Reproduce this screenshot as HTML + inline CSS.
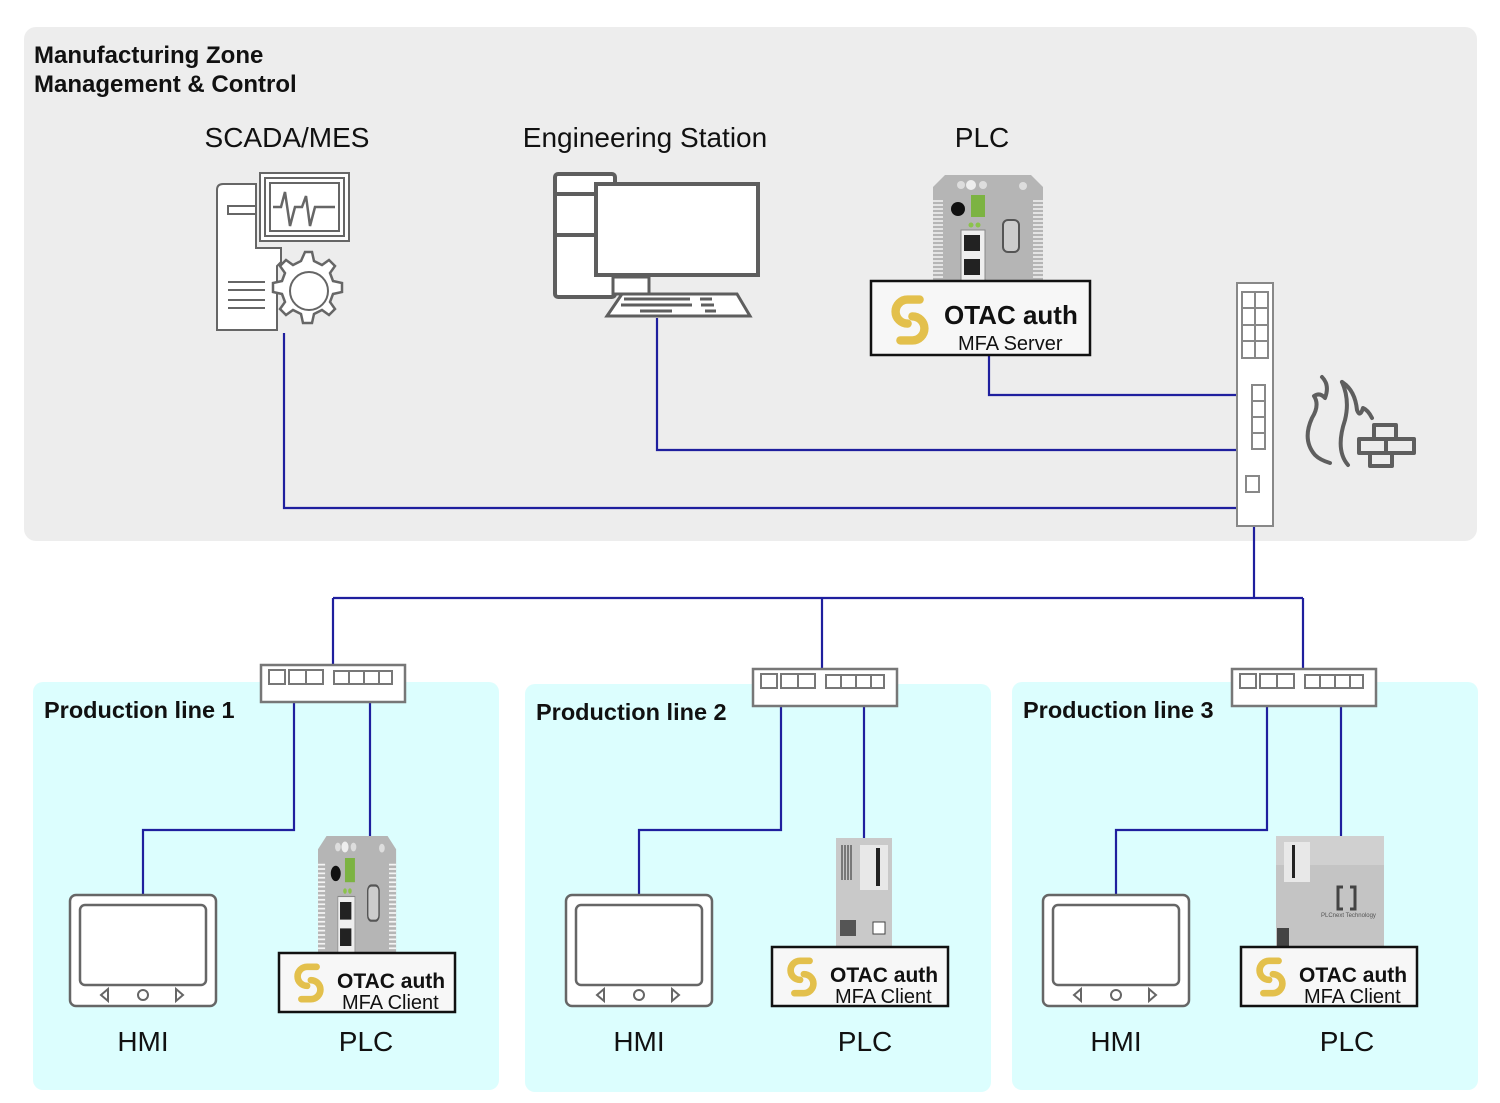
<!DOCTYPE html>
<html><head><meta charset="utf-8"><style>
html,body{margin:0;padding:0;background:#fff;}
svg{display:block;font-family:"Liberation Sans",Arial,sans-serif;}
</style></head><body>
<svg width="1500" height="1103" viewBox="0 0 1500 1103" xmlns="http://www.w3.org/2000/svg">
<defs>
  <g id="logo">
    <path d="M8,-17 H-2 A10,10 0 0 0 -2,3" fill="none" stroke="#e3c04c" stroke-width="7" stroke-linecap="round"/>
    <path d="M2,-3 A10,10 0 0 1 2,17 H-8" fill="none" stroke="#e3c04c" stroke-width="7" stroke-linecap="round"/>
  </g>
  <g id="client">
    <rect x="0" y="0" width="176" height="59" fill="#f7f7f7" stroke="#111" stroke-width="2.5"/>
    <use href="#logo" transform="translate(30,30) scale(0.95)"/>
    <text x="58" y="35" font-size="21" font-weight="bold" fill="#111">OTAC auth</text>
    <text x="63" y="56" font-size="20" fill="#111">MFA Client</text>
  </g>
  <g id="hmi">
    <rect x="0" y="0" width="146" height="111" rx="6" fill="#fff" stroke="#666" stroke-width="2.5"/>
    <rect x="10" y="10" width="126" height="80" rx="5" fill="#fff" stroke="#666" stroke-width="2.5"/>
    <path d="M38,94 L31,100 L38,106 Z M106,94 L113,100 L106,106 Z" fill="none" stroke="#666" stroke-width="2"/>
    <circle cx="73" cy="100" r="5" fill="none" stroke="#666" stroke-width="2"/>
  </g>
  <g id="hswitch">
    <rect x="0" y="0" width="144" height="37" fill="#fff" stroke="#777" stroke-width="2.5"/>
    <g fill="none" stroke="#777" stroke-width="2">
      <rect x="8" y="5" width="16" height="14"/>
      <rect x="28" y="5" width="17" height="14"/><rect x="45" y="5" width="17" height="14"/>
      <rect x="73" y="6" width="15" height="13"/><rect x="88" y="6" width="15" height="13"/><rect x="103" y="6" width="15" height="13"/><rect x="118" y="6" width="13" height="13"/>
    </g>
  </g>
  <g id="plc1">
    <path d="M12,0 H98 L110,12 V106 H0 V12 Z" fill="#b5b5b5"/>
    <g stroke="#f4f4f4" stroke-width="1.6">
      <path d="M0,26H10M0,30H10M0,34H10M0,38H10M0,42H10M0,46H10M0,50H10M0,54H10M0,58H10M0,62H10M0,66H10M0,70H10M0,74H10M0,78H10M0,82H10M0,86H10M0,90H10M0,94H10M0,98H10M0,102H10"/>
      <path d="M100,26H110M100,30H110M100,34H110M100,38H110M100,42H110M100,46H110M100,50H110M100,54H110M100,58H110M100,62H110M100,66H110M100,70H110M100,74H110M100,78H110M100,82H110M100,86H110M100,90H110M100,94H110M100,98H110M100,102H110"/>
    </g>
    <circle cx="28" cy="10" r="4" fill="#ddd"/><circle cx="38" cy="10" r="5" fill="#eee"/><circle cx="50" cy="10" r="4" fill="#ddd"/><circle cx="90" cy="11" r="4" fill="#ddd"/>
    <rect x="38" y="20" width="14" height="22" fill="#7cb342"/>
    <circle cx="25" cy="34" r="7" fill="#111"/>
    <circle cx="38" cy="50" r="2.5" fill="#8bc34a"/><circle cx="45" cy="50" r="2.5" fill="#8bc34a"/>
    <rect x="28" y="55" width="24" height="51" fill="#eee" stroke="#888"/>
    <rect x="31" y="60" width="16" height="16" fill="#222"/><rect x="31" y="84" width="16" height="16" fill="#222"/>
    <rect x="70" y="45" width="16" height="32" rx="5" fill="#ccc" stroke="#555" stroke-width="2"/>
  </g>
</defs>

<rect x="24" y="27" width="1453" height="514" rx="12" fill="#ededed"/>
<rect x="33" y="682" width="466" height="408" rx="10" fill="#dcfefe"/>
<rect x="525" y="684" width="466" height="408" rx="10" fill="#dcfefe"/>
<rect x="1012" y="682" width="466" height="408" rx="10" fill="#dcfefe"/>

<text x="34" y="63" font-size="24" font-weight="bold" fill="#111">Manufacturing Zone</text>
<text x="34" y="92" font-size="24" font-weight="bold" fill="#111">Management &amp; Control</text>
<text x="287" y="147" font-size="28" text-anchor="middle" fill="#111">SCADA/MES</text>
<text x="645" y="147" font-size="28" text-anchor="middle" fill="#111">Engineering Station</text>
<text x="982" y="147" font-size="28" text-anchor="middle" fill="#111">PLC</text>

<g fill="none" stroke="#1f1f9e" stroke-width="2.2">
  <path d="M284,333 V508 H1237"/>
  <path d="M657,318 V450 H1237"/>
  <path d="M989,355 V395 H1237"/>
  <path d="M1254,526 V598"/>
  <path d="M333,598 H1303"/>
  <path d="M333,598 V665 M822,598 V669 M1303,598 V669"/>
  <path d="M294,702 V830 H143 V895 M370,702 V838"/>
  <path d="M781,706 V830 H639 V895 M864,706 V838"/>
  <path d="M1267,706 V830 H1116 V895 M1341,706 V838"/>
</g>

<g fill="#fff" stroke="#666" stroke-width="2">
  <path d="M223,184 H256 V248 H281 V262 L277,266 V330 H217 V190 Q217,184 223,184 Z"/>
  <path d="M228,206 H256 V214 H228 Z" />
  <rect x="260" y="173" width="89" height="68"/>
  <rect x="265" y="178" width="79" height="58"/>
  <rect x="270" y="183" width="69" height="48"/>
  <path d="M273,207 L281,207 L285,192 L290,226 L295,207 L302,207 L306,196 L310,226 L315,207 L335,207" stroke-width="2.5"/>
  <path d="M228,282 H265 M228,290 H265 M228,300 H265 M228,308 H265"/>
  <path d="M305,252 l7,0 l2,9 l8,4 l7,-5 l6,6 l-5,7 l3,8 l9,2 v9 l-9,2 l-3,8 l5,7 l-6,6 l-7,-5 l-8,4 l-2,9 h-9 l-2,-9 l-8,-4 l-7,5 l-6,-6 l5,-7 l-3,-8 l-9,-2 v-9 l9,-2 l3,-8 l-5,-7 l6,-6 l7,5 l8,-4 z" stroke-width="2.5"/>
  <circle cx="309" cy="291" r="19"/>
</g>

<g fill="#fff" stroke="#5e5e5e" stroke-width="4">
  <rect x="555" y="174" width="60" height="123" rx="3"/>
  <path d="M555,194 H597 M555,235 H597"/>
  <rect x="596" y="184" width="162" height="91"/>
  <rect x="613" y="277" width="36" height="17" stroke-width="3"/>
  <path d="M607,316 L622,294 L737,294 L750,316 Z" stroke-width="3"/>
</g>
<g stroke="#5e5e5e" stroke-width="3">
  <path d="M624,299 H690 M700,299 H712 M621,305 H692 M701,305 H714 M640,311 H672 M705,311 H716"/>
</g>

<use href="#plc1" transform="translate(933,175)"/>
<rect x="871" y="281" width="219" height="74" fill="#f7f7f7" stroke="#111" stroke-width="2.5"/>
<use href="#logo" transform="translate(910,320) scale(1.2)"/>
<text x="944" y="324" font-size="26" font-weight="bold" fill="#111">OTAC auth</text>
<text x="958" y="350" font-size="20" fill="#111">MFA Server</text>

<g fill="#fff" stroke="#888" stroke-width="2">
  <rect x="1237" y="283" width="36" height="243"/>
  <rect x="1242" y="292" width="13" height="16"/><rect x="1255" y="292" width="13" height="16"/>
  <rect x="1242" y="308" width="13" height="17"/><rect x="1255" y="308" width="13" height="17"/>
  <rect x="1242" y="325" width="13" height="16"/><rect x="1255" y="325" width="13" height="16"/>
  <rect x="1242" y="341" width="13" height="17"/><rect x="1255" y="341" width="13" height="17"/>
  <rect x="1252" y="385" width="13" height="16"/><rect x="1252" y="401" width="13" height="16"/>
  <rect x="1252" y="417" width="13" height="16"/><rect x="1252" y="433" width="13" height="16"/>
  <rect x="1246" y="476" width="13" height="16"/>
</g>

<g fill="none" stroke="#5e5e5e" stroke-width="4" stroke-linecap="round" stroke-linejoin="round">
  <path d="M1322,377 Q1330,385 1325,398 Q1320,392 1314,396 Q1320,405 1312,418 Q1302,440 1315,455 Q1320,460 1330,463"/>
  <path d="M1342,382 Q1355,390 1357,410 Q1360,418 1363,408 Q1368,410 1372,418"/>
  <path d="M1342,382 Q1350,400 1345,420 Q1335,450 1348,465"/>
  <rect x="1374" y="425" width="22" height="14"/>
  <rect x="1359" y="439" width="27" height="14"/>
  <rect x="1386" y="439" width="28" height="14"/>
  <rect x="1370" y="453" width="22" height="13"/>
</g>

<text x="44" y="718" font-size="23.5" font-weight="bold" fill="#111">Production line 1</text>
<text x="536" y="720" font-size="23.5" font-weight="bold" fill="#111">Production line 2</text>
<text x="1023" y="718" font-size="23.5" font-weight="bold" fill="#111">Production line 3</text>

<use href="#hswitch" transform="translate(261,665)"/>
<use href="#hswitch" transform="translate(753,669)"/>
<use href="#hswitch" transform="translate(1232,669)"/>

<use href="#hmi" transform="translate(70,895)"/>
<use href="#hmi" transform="translate(566,895)"/>
<use href="#hmi" transform="translate(1043,895)"/>

<use href="#plc1" transform="translate(318,836) scale(0.71,1.1)"/>
<use href="#client" transform="translate(279,953)"/>

<g>
  <rect x="836" y="838" width="56" height="109" fill="#c9c9c9"/>
  <rect x="860" y="845" width="28" height="45" fill="#e8e8e8"/>
  <rect x="876" y="848" width="4" height="38" fill="#222"/>
  <path d="M842,845 V880 M845,845 V880 M848,845 V880 M851,845 V880" stroke="#444" stroke-width="1.2"/>
  <rect x="840" y="920" width="16" height="16" fill="#555"/>
  <rect x="873" y="922" width="12" height="12" fill="#fff" stroke="#444"/>
</g>
<use href="#client" transform="translate(772,947)"/>

<g>
  <rect x="1276" y="836" width="108" height="111" fill="#c4c4c4"/>
  <rect x="1276" y="836" width="108" height="29" fill="#d0d0d0"/>
  <rect x="1284" y="842" width="26" height="40" fill="#e8e8e8"/>
  <rect x="1292" y="845" width="3" height="33" fill="#222"/>
  <path d="M1343,887 h-5 v22 h5 M1350,887 h5 v22 h-5" fill="none" stroke="#444" stroke-width="3"/>
  <text x="1321" y="917" font-size="6" fill="#555">PLCnext Technology</text>
  <rect x="1277" y="928" width="12" height="18" fill="#444"/>
</g>
<use href="#client" transform="translate(1241,947)"/>

<text x="143" y="1051" font-size="28" text-anchor="middle" fill="#111">HMI</text>
<text x="366" y="1051" font-size="28" text-anchor="middle" fill="#111">PLC</text>
<text x="639" y="1051" font-size="28" text-anchor="middle" fill="#111">HMI</text>
<text x="865" y="1051" font-size="28" text-anchor="middle" fill="#111">PLC</text>
<text x="1116" y="1051" font-size="28" text-anchor="middle" fill="#111">HMI</text>
<text x="1347" y="1051" font-size="28" text-anchor="middle" fill="#111">PLC</text>
</svg>
</body></html>
